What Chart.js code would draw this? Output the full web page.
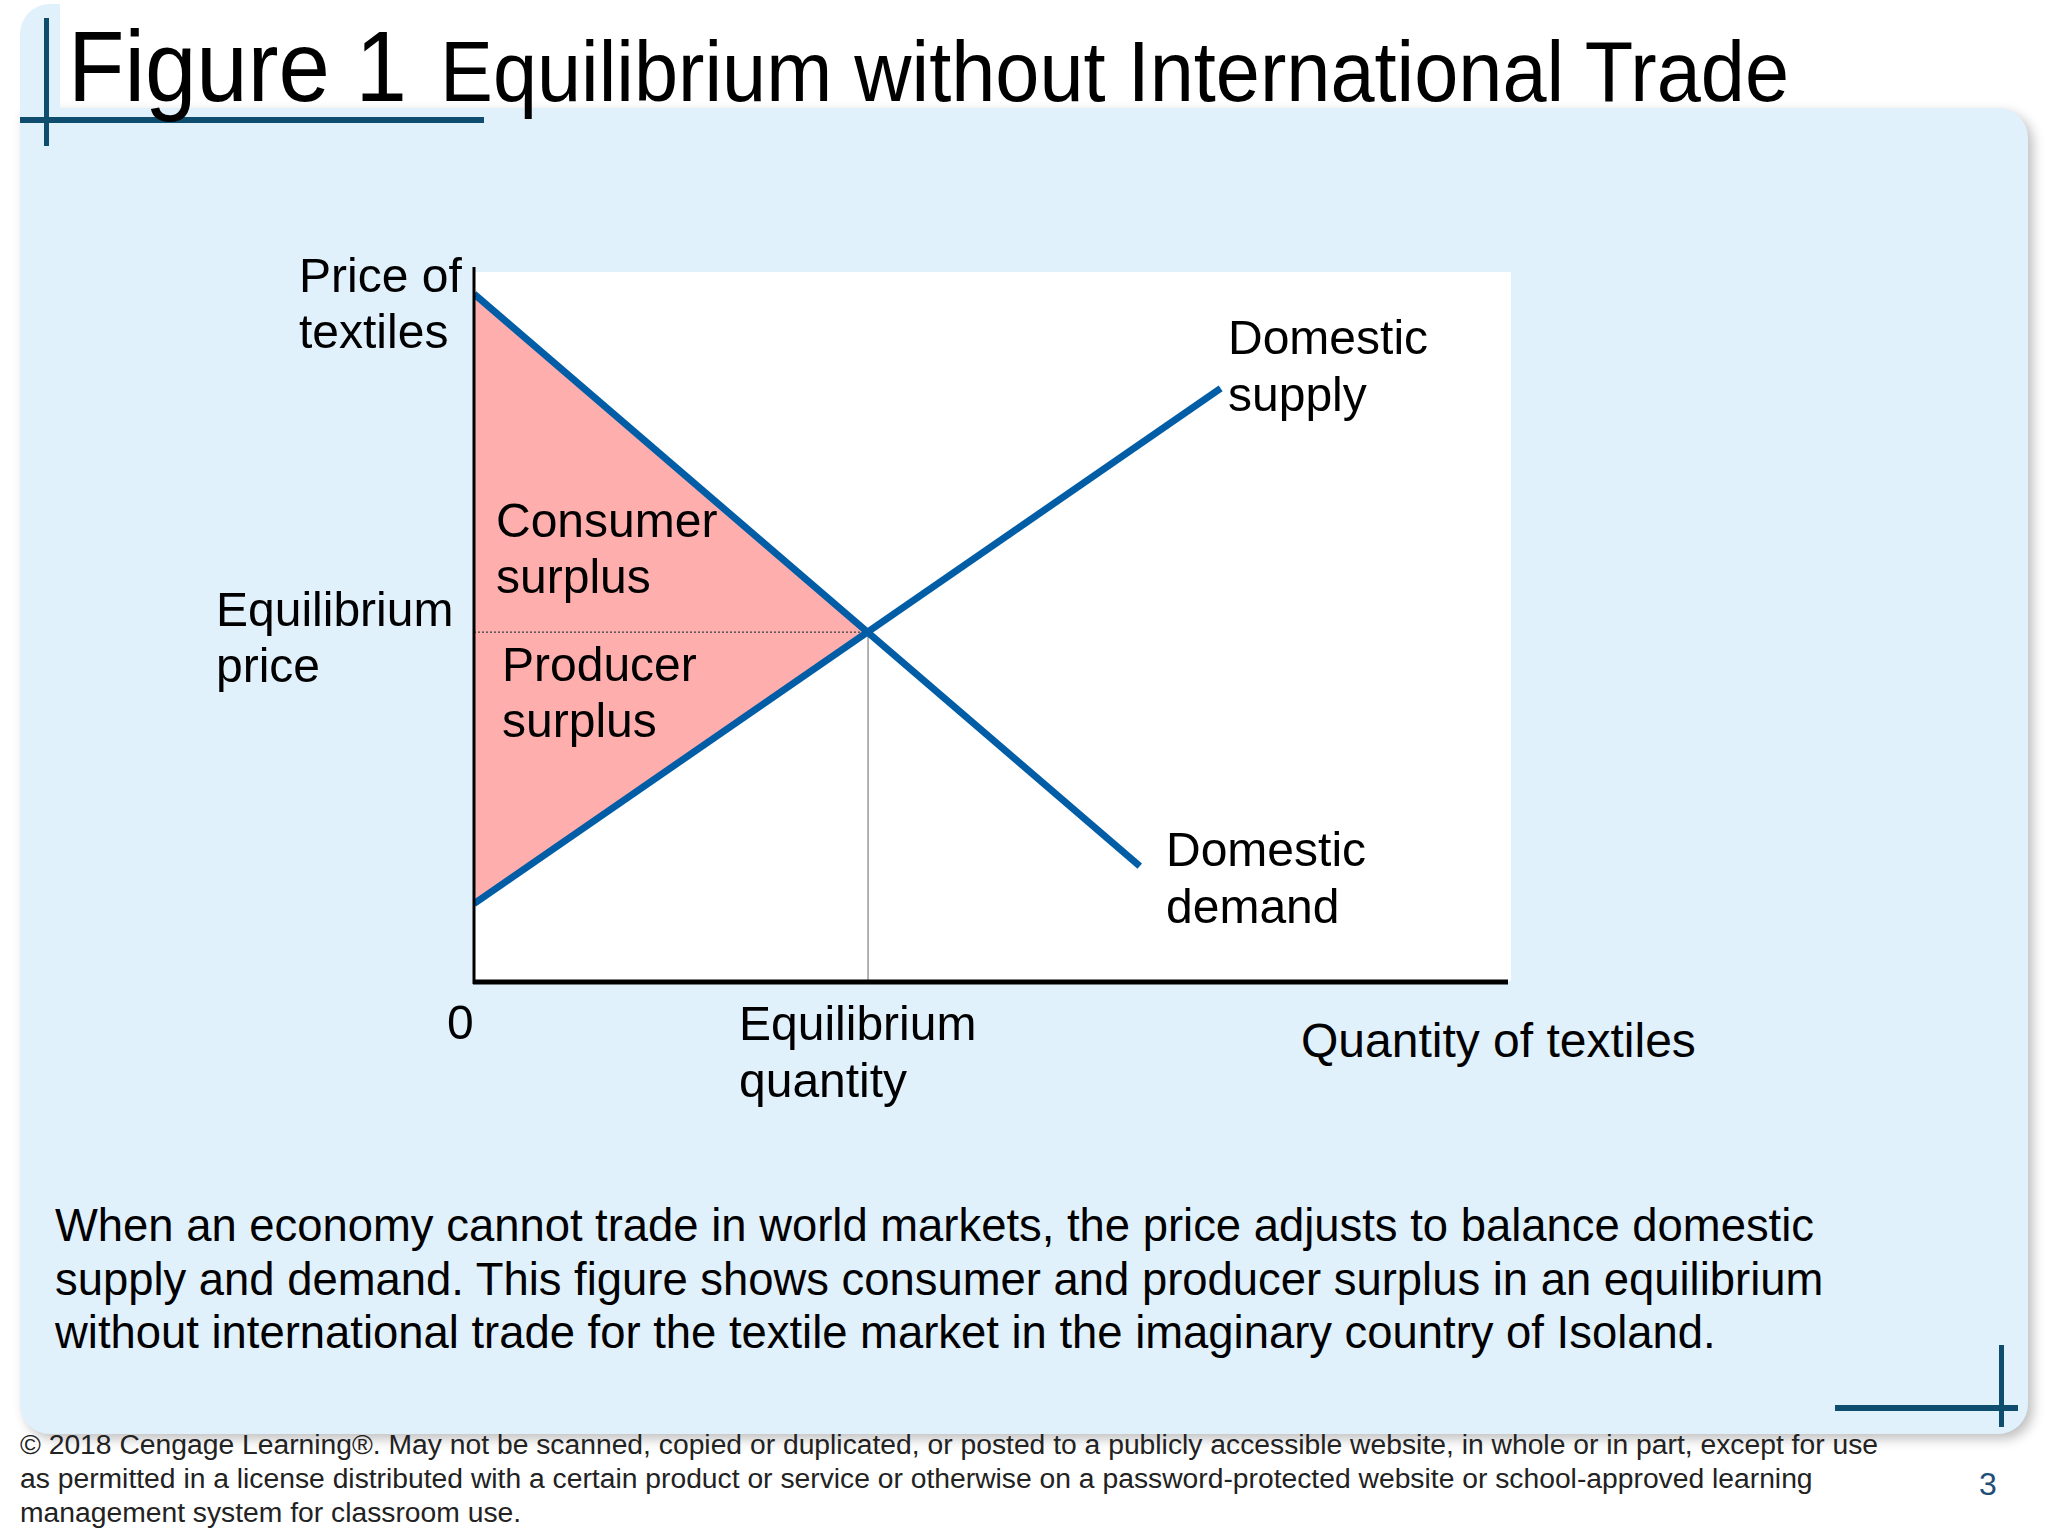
<!DOCTYPE html>
<html lang="en">
<head>
<meta charset="UTF-8">
<title>Figure 1 Equilibrium without International Trade</title>
<script src="https://cdn.jsdelivr.net/npm/chart.js"></script>
<style>
    html, body { margin: 0; padding: 0; }
    body {
        width: 2048px; height: 1536px; position: relative; overflow: hidden;
        background: #fff; color: #000;
        font-family: 'Liberation Sans', Arial, sans-serif;
    }
    .panel {
        position: absolute; left: 20px; top: 108px; width: 2008px; height: 1326px;
        background: #E0F1FC; border-radius: 0 30px 30px 30px;
        box-shadow: 5px 5px 12px rgba(0,0,0,0.25);
    }
    .panel-tab {
        position: absolute; left: 20px; top: 4px; width: 40px; height: 110px;
        background: #E0F1FC; border-radius: 30px 0 0 0;
    }
    .bar { position: absolute; background: #0E4D6E; }
    .txt { position: absolute; white-space: nowrap; transform-origin: 0 0; }
    #chartBox { position: absolute; left: 444px; top: 242px; width: 1097px; height: 769px; }
</style>
</head>
<body>
    <div class="panel"></div>
    <div class="panel-tab"></div>
    <div class="bar" style="left:44px; top:18px; width:5px; height:128px;"></div>
    <div class="bar" style="left:20px; top:117px; width:464px; height:6px;"></div>
    <div class="bar" style="left:1999px; top:1345px; width:5px; height:82px;"></div>
    <div class="bar" style="left:1835px; top:1405px; width:183px; height:6px;"></div>

    <div id="chartBox"><canvas id="chart"></canvas></div>

    <script>
        // curve end points (quantity, price on a 0-100 scale)
        const demandQ = [0, 64.2];
        const demandP = [96.9, 16.2];
        const supplyQ = [0, 72.0];
        const supplyP = [10.9, 83.6];
        const eqQuantity = 38;
        const eqPrice = 49.2;

        const pts = (qs, ps) => qs.map((q, i) => ({ x: q, y: ps[i] }));

        const blue = '#005DA6';
        const pink = '#FFAEAE';

        const plotFrame = {
            id: 'plotFrame',
            beforeDraw(chart) {
                const a = chart.chartArea, c = chart.ctx;
                c.save();
                c.fillStyle = '#fff';
                c.fillRect(a.left, a.top, a.right - a.left, a.bottom - a.top);
                c.restore();
            },
            afterDatasetsDraw(chart) {
                const a = chart.chartArea, c = chart.ctx;
                c.save();
                c.strokeStyle = '#000';
                c.lineWidth = 3;
                c.beginPath();
                c.moveTo(a.left, a.top - 5);
                c.lineTo(a.left, a.bottom + 3);
                c.stroke();
                c.lineWidth = 5;
                c.beginPath();
                c.moveTo(a.left - 1, a.bottom + 1);
                c.lineTo(a.right - 3, a.bottom + 1);
                c.stroke();
                c.restore();
            }
        };

        const line = (data, color, width, extra) => Object.assign({
            data, borderColor: color, borderWidth: width, showLine: true,
            pointRadius: 0, fill: false, tension: 0
        }, extra || {});

        new Chart(document.getElementById('chart'), {
            type: 'scatter',
            data: {
                datasets: [
                    line(pts(demandQ, demandP), blue, 7, { label: 'Domestic demand', borderCapStyle: 'butt' }),
                    line(pts(supplyQ, supplyP), blue, 7, { label: 'Domestic supply', borderCapStyle: 'butt' }),
                    line(pts([0, eqQuantity], [eqPrice, eqPrice]), '#555', 1.5, { borderDash: [2, 2] }),
                    line(pts([eqQuantity, eqQuantity], [0, eqPrice]), '#9a9a9a', 1.5),
                    line(pts([0, eqQuantity], [demandP[0], eqPrice]), 'rgba(0,0,0,0)', 0,
                         { label: 'Surplus', fill: '+1', backgroundColor: pink }),
                    line(pts([0, eqQuantity], [supplyP[0], eqPrice]), 'rgba(0,0,0,0)', 0)
                ]
            },
            options: {
                responsive: true,
                maintainAspectRatio: false,
                animation: false,
                layout: { padding: 30 },
                plugins: { legend: { display: false }, tooltip: { enabled: false } },
                scales: {
                    x: { type: 'linear', min: 0, max: 100, display: false },
                    y: { type: 'linear', min: 0, max: 100, display: false }
                }
            },
            plugins: [plotFrame]
        });

        // text placed by baseline; returns the created elements
        function place(lines, x, base, size, gap, opts) {
            opts = opts || {};
            const els = lines.map((t, i) => {
                const d = document.createElement('div');
                d.className = 'txt';
                d.textContent = t;
                d.style.fontSize = size + 'px';
                d.style.lineHeight = size + 'px';
                d.style.left = x + 'px';
                d.style.top = (base + i * gap - 0.8465 * size) + 'px';
                if (opts.color) d.style.color = opts.color;
                document.body.appendChild(d);
                return d;
            });
            if (opts.fit) {
                const k = opts.fit / els[0].getBoundingClientRect().width;
                els.forEach(e => e.style.transform = 'scaleX(' + k + ')');
            }
            return els;
        }

        // title
        place(['Figure 1'], 68, 101, 100, 0, { fit: 339 });
        place(['Equilibrium without International Trade'], 440, 101, 86, 0, { fit: 1349 });

        // chart labels
        place(['Price of', 'textiles'], 299, 293, 48, 56);
        place(['Consumer', 'surplus'], 496, 538, 48, 56);
        place(['Equilibrium', 'price'], 216, 627, 48, 56);
        place(['Producer', 'surplus'], 502, 682, 48, 56);
        place(['Domestic', 'supply'], 1228, 355, 48, 57);
        place(['Domestic', 'demand'], 1166, 867, 48, 57);
        place(['0'], 447, 1040, 48, 0);
        place(['Equilibrium', 'quantity'], 739, 1041, 48, 57);
        place(['Quantity of textiles'], 1301, 1058, 48, 0);

        // caption
        place([
            'When an economy cannot trade in world markets, the price adjusts to balance domestic',
            'supply and demand. This figure shows consumer and producer surplus in an equilibrium',
            'without international trade for the textile market in the imaginary country of Isoland.'
        ], 55, 1241, 46, 53.5, { fit: 1759 });

        // footer
        place([
            '\u00a9 2018 Cengage Learning\u00ae. May not be scanned, copied or duplicated, or posted to a publicly accessible website, in whole or in part, except for use',
            'as permitted in a license distributed with a certain product or service or otherwise on a password-protected website or school-approved learning',
            'management system for classroom use.'
        ], 20, 1455, 27, 34, { fit: 1858, color: '#222' });
        place(['3'], 1979, 1495, 32, 0, { color: '#1F4E79' });
    </script>
</body>
</html>
